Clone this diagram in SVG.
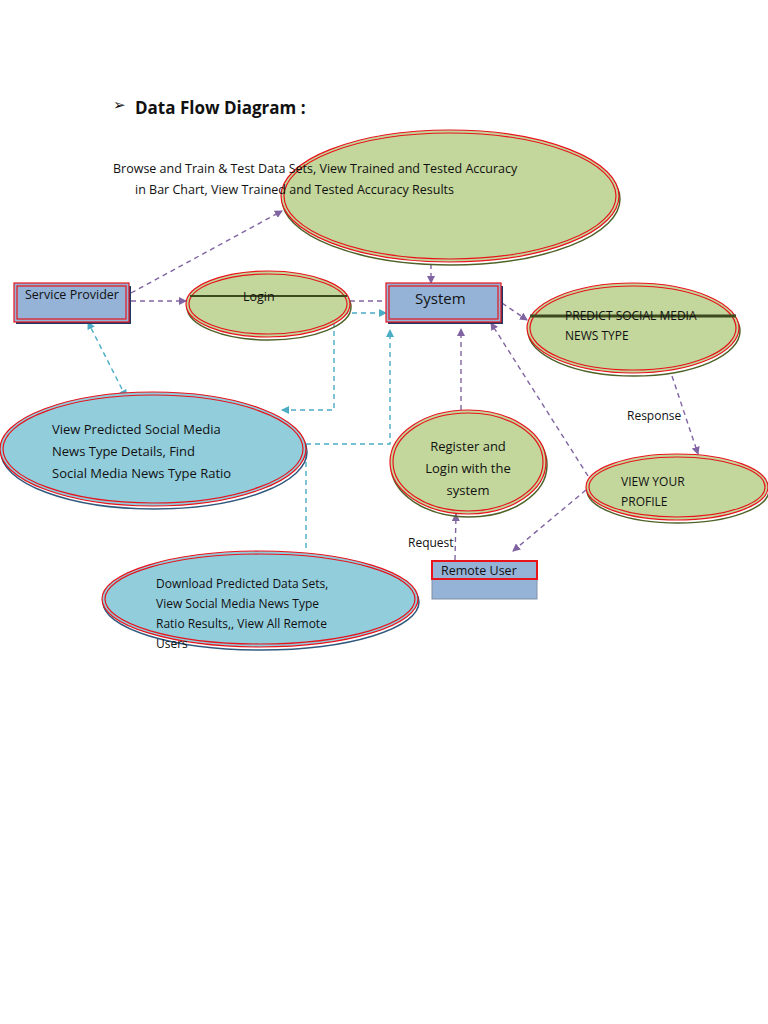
<svg xmlns="http://www.w3.org/2000/svg" width="768" height="1024" viewBox="0 0 768 1024">
<style>
text{font-family:"Open Sans","DejaVu Sans",sans-serif;font-size:12.5px;fill:#111}
.g{fill:#c3d69b}.b{fill:#92cddc}
.e{stroke:#e8131b;stroke-width:1.2}
.sh{fill:none;stroke:#4f6228;stroke-width:1.5}
.shb{fill:none;stroke:#31597e;stroke-width:1.5}
.r{fill:#95b3d7;stroke:#e8131b;stroke-width:1.2}
.p{fill:none;stroke:#8064a2;stroke-width:1.4;stroke-dasharray:5 4;marker-end:url(#ap)}
.c{fill:none;stroke:#4bacc6;stroke-width:1.4;stroke-dasharray:5 4}
.ca{marker-end:url(#ac)}
</style>
<defs>
<marker id="ap" markerWidth="8" markerHeight="8" refX="7" refY="4" orient="auto" markerUnits="userSpaceOnUse"><path d="M0,0L8,4L0,8z" fill="#8064a2"/></marker>
<marker id="ac" markerWidth="8" markerHeight="8" refX="7" refY="4" orient="auto-start-reverse" markerUnits="userSpaceOnUse"><path d="M0,0L8,4L0,8z" fill="#4bacc6"/></marker>
</defs>
<rect width="768" height="1024" fill="#fff"/>
<text x="113" y="110" style="font-size:15px">➢</text>
<text x="135" y="114" style="font-size:17px;font-weight:bold">Data Flow Diagram  :</text>
<g id="connectors">
<path class="p" d="M131,293L282,211"/>
<path class="p" d="M131,301L186,301"/>
<path class="p" d="M350,301L386,301" style="marker-end:none"/>
<path class="p" d="M431,264L431,283"/>
<path class="p" d="M502,303L527,320"/>
<path class="p" d="M672,376L698,454"/>
<path class="p" d="M461,410L461,329"/>
<path class="p" d="M588,476L491,323"/>
<path class="p" d="M586,490L513,551"/>
<path class="p" d="M455,560L456,514"/>
<path class="c ca" d="M126,397L88,322" style="marker-start:url(#ac)"/>
<path class="c ca" d="M334,313L334,410L282,410"/>
<path class="c ca" d="M334,313L386,313"/>
<path class="c ca" d="M306,444L390,444L390,330"/>
<path class="c" d="M306,444L306,550"/>
</g>
<g id="top">
<ellipse cx="451" cy="199" rx="169" ry="66" class="sh"/>
<ellipse cx="450" cy="196" rx="169" ry="66" class="g e"/>
<ellipse cx="450" cy="196" rx="166" ry="63" fill="none" class="e"/>
<text x="113" y="173">Browse and Train &amp; Test Data Sets, View Trained and Tested Accuracy</text>
<text x="135" y="194">in Bar Chart,  View Trained and Tested Accuracy Results</text>
</g>
<g id="sp">
<rect x="16" y="286" width="115" height="38" fill="#1f3864"/>
<rect x="14" y="283" width="115" height="39" class="r"/>
<rect x="17" y="286" width="109" height="33" fill="none" class="e"/>
<text x="25" y="299">Service Provider</text>
</g>
<g id="login">
<ellipse cx="269" cy="307" rx="82" ry="33" class="sh"/>
<ellipse cx="268" cy="304" rx="82" ry="33" class="g e"/>
<ellipse cx="268" cy="304" rx="79" ry="30" fill="none" class="e"/>
<line x1="190" y1="296" x2="347" y2="296" stroke="#3d4a1f" stroke-width="2"/>
<text x="243" y="301">Login</text>
</g>
<g id="system">
<rect x="388" y="286" width="115" height="38" fill="#1f3864"/>
<rect x="386" y="283" width="115" height="39" class="r"/>
<rect x="389" y="286" width="109" height="33" fill="none" class="e"/>
<text x="415" y="304" style="font-size:15px">System</text>
</g>
<g id="predict">
<ellipse cx="634" cy="331" rx="106" ry="45" class="sh"/>
<ellipse cx="633" cy="328" rx="106" ry="45" class="g e"/>
<ellipse cx="633" cy="328" rx="103" ry="42" fill="none" class="e"/>
<line x1="530" y1="316" x2="736" y2="316" stroke="#3d4a1f" stroke-width="3"/>
<text x="565" y="320" style="font-size:12px">PREDICT SOCIAL MEDIA</text>
<text x="565" y="340" style="font-size:12px">NEWS TYPE</text>
</g>
<text x="627" y="420" style="font-size:12px">Response</text>
<g id="viewpred">
<ellipse cx="154" cy="452" rx="153" ry="57" class="shb"/>
<ellipse cx="153" cy="449" rx="153" ry="57" class="b e"/>
<ellipse cx="153" cy="449" rx="150" ry="54" fill="none" class="e"/>
<text x="52" y="434" style="font-size:13px">View Predicted Social Media</text>
<text x="52" y="456" style="font-size:13px">News Type Details,  Find</text>
<text x="52" y="478" style="font-size:13px">Social Media News Type Ratio</text>
</g>
<g id="register">
<ellipse cx="469" cy="465" rx="78" ry="52" class="sh"/>
<ellipse cx="468" cy="462" rx="78" ry="52" class="g e"/>
<ellipse cx="468" cy="462" rx="75" ry="49" fill="none" class="e"/>
<text x="468" y="451" text-anchor="middle" style="font-size:13px">Register and</text>
<text x="468" y="473" text-anchor="middle" style="font-size:13px">Login with the</text>
<text x="468" y="495" text-anchor="middle" style="font-size:13px">system</text>
</g>
<g id="profile">
<ellipse cx="678" cy="490" rx="91" ry="33" class="sh"/>
<ellipse cx="677" cy="487" rx="91" ry="33" class="g e"/>
<ellipse cx="677" cy="487" rx="88" ry="30" fill="none" class="e"/>
<text x="621" y="486" style="font-size:12px">VIEW YOUR</text>
<text x="621" y="506" style="font-size:12px">PROFILE</text>
</g>
<text x="408" y="547" style="font-size:12px">Request</text>
<g id="remote">
<rect x="432" y="561" width="105" height="38" fill="#95b3d7" stroke="#7f8fa6" stroke-width="1"/>
<rect x="432" y="561" width="105" height="18" fill="none" stroke="#e8131b" stroke-width="2"/>
<text x="441" y="575">Remote User</text>
</g>
<g id="download">
<ellipse cx="261" cy="602" rx="158" ry="48" class="shb"/>
<ellipse cx="260" cy="599" rx="158" ry="48" class="b e"/>
<ellipse cx="260" cy="599" rx="155" ry="45" fill="none" class="e"/>
<text x="156" y="588" style="font-size:12px">Download Predicted Data Sets,</text>
<text x="156" y="608" style="font-size:12px">View Social Media News Type</text>
<text x="156" y="628" style="font-size:12px">Ratio Results,, View All Remote</text>
<text x="156" y="648" style="font-size:12px">Users</text>
</g>
</svg>
